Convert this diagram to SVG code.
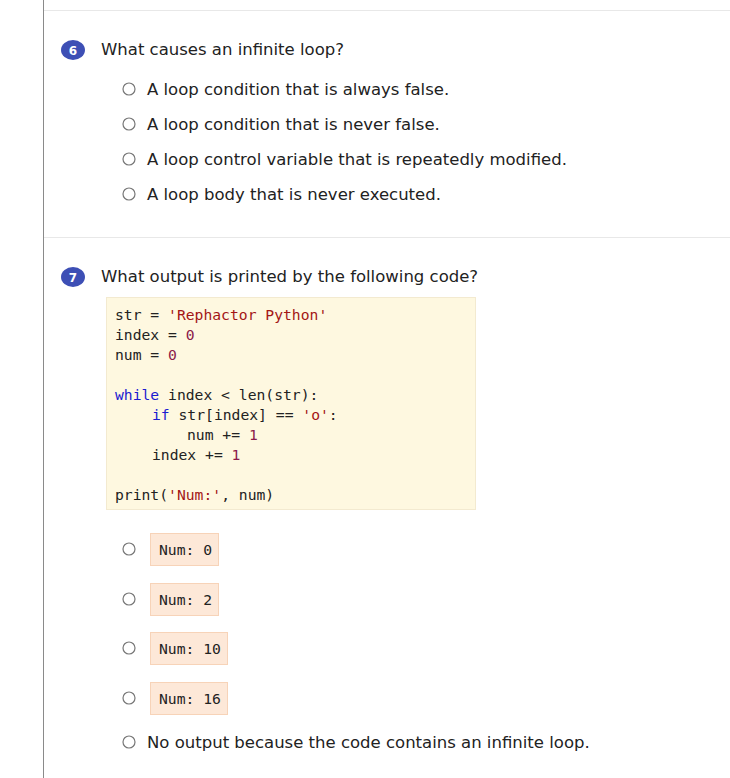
<svg xmlns="http://www.w3.org/2000/svg" width="730" height="778" viewBox="0 0 730 778">
<style>
.q{font-family:"DejaVu Sans",Verdana,sans-serif;font-size:16.5px;fill:#222}
.o{font-family:"DejaVu Sans",Verdana,sans-serif;font-size:16.5px;fill:#222}
.c{font-family:"DejaVu Sans Mono",monospace;font-size:14.7px;fill:#222}
.rad{fill:#fff;stroke:#777;stroke-width:1.2}
.ans{fill:#fde8d8;stroke:#f7d3b8;stroke-width:1}
.b{fill:#3d4fb5}
.bt{font-family:"DejaVu Sans",sans-serif;font-size:12px;font-weight:bold;fill:#fff;text-anchor:middle}
.kw{fill:#1b1bd0}.s{fill:#a31515}.n{fill:#8b1a4a}
</style>
<rect width="730" height="778" fill="#fff"/>
<line x1="43.5" y1="0" x2="43.5" y2="778" stroke="#8a8a8a"/>
<line x1="44" y1="10.5" x2="730" y2="10.5" stroke="#e8e8e8"/>
<line x1="44" y1="237.5" x2="730" y2="237.5" stroke="#e8e8e8"/>
<g id="q6">
<ellipse class="b" cx="73" cy="50" rx="12" ry="10"/><text class="bt" x="73" y="54.5">6</text>
<text class="q" x="101" y="55">What causes an infinite loop?</text>
<circle class="rad" cx="129" cy="89" r="6"/><text class="o" x="147" y="95">A loop condition that is always false.</text>
<circle class="rad" cx="129" cy="124" r="6"/><text class="o" x="147" y="130">A loop condition that is never false.</text>
<circle class="rad" cx="129" cy="159" r="6"/><text class="o" x="147" y="165">A loop control variable that is repeatedly modified.</text>
<circle class="rad" cx="129" cy="194" r="6"/><text class="o" x="147" y="200">A loop body that is never executed.</text>
</g>
<g id="q7">
<ellipse class="b" cx="73" cy="277" rx="12" ry="10"/><text class="bt" x="73" y="281.5">7</text>
<text class="q" x="101" y="282">What output is printed by the following code?</text>
<rect x="106.5" y="297.5" width="369" height="212" fill="#fef8e0" stroke="#f3ead0"/>
<text class="c" x="115" y="320">str = <tspan class="s">'Rephactor Python'</tspan></text>
<text class="c" x="115" y="340">index = <tspan class="n">0</tspan></text>
<text class="c" x="115" y="360">num = <tspan class="n">0</tspan></text>
<text class="c" x="115" y="400"><tspan class="kw">while</tspan> index &lt; len(str):</text>
<text class="c" x="152" y="420"><tspan class="kw">if</tspan> str[index] == <tspan class="s">'o'</tspan>:</text>
<text class="c" x="187" y="440">num += <tspan class="n">1</tspan></text>
<text class="c" x="152" y="460">index += <tspan class="n">1</tspan></text>
<text class="c" x="115" y="500">print(<tspan class="s">'Num:'</tspan>, num)</text>
<circle class="rad" cx="129" cy="549" r="6"/><rect class="ans" x="150.5" y="533.5" width="68" height="32"/><text class="c" x="159" y="555">Num: 0</text>
<circle class="rad" cx="129" cy="599" r="6"/><rect class="ans" x="150.5" y="583.5" width="68" height="32"/><text class="c" x="159" y="605">Num: 2</text>
<circle class="rad" cx="129" cy="648" r="6"/><rect class="ans" x="150.5" y="632.5" width="77" height="32"/><text class="c" x="159" y="654">Num: 10</text>
<circle class="rad" cx="129" cy="698" r="6"/><rect class="ans" x="150.5" y="682.5" width="77" height="32"/><text class="c" x="159" y="704">Num: 16</text>
<circle class="rad" cx="129" cy="742" r="6"/><text class="o" x="147" y="748">No output because the code contains an infinite loop.</text>
</g>
</svg>
